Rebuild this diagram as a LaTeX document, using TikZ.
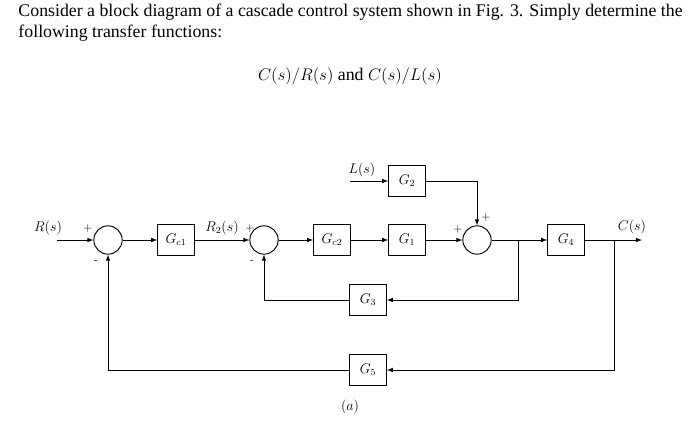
\documentclass[tikz,border=0pt]{standalone}
\usepackage{tikz}
\usepackage{fontspec}
\newfontfamily\titlefont{Liberation Serif}
\usetikzlibrary{shapes,arrows}
\begin{document}
\begin{tikzpicture}[x=0.03cm, y=-0.03cm, thick, font=\large]
\tikzstyle{blockr}=[rectangle, draw, thick, minimum width=1.1cm, minimum height=0.95cm, inner sep=2pt]
\tikzstyle{sumc}=[circle, draw, thick, minimum size=0.85cm, inner sep=0pt]
\tikzstyle{drawstyle}=[thick, -latex]
\tikzstyle{signstyle}=[font=\normalsize, inner sep=1pt]
\tikzstyle{titlestyle}=[anchor=west, font=\titlefont\fontsize{15.2}{18}\selectfont, inner sep=0pt]
\useasboundingbox (0,0) rectangle (700,436);

\node[titlestyle] (T1) at (18,12) {Consider a block diagram of a cascade control system shown in Fig. 3. Simply determine the};
\node[titlestyle] (T2) at (18,33) {following transfer functions:};
\node[font=\titlefont\fontsize{15.2}{18}\selectfont] (T3) at (350,76) {$C(s)/R(s)$ and $C(s)/L(s)$};

\coordinate (IN) at (57,240);
\node[sumc] (S1) at (108,240) {};
\node[blockr] (Gc1) at (176,240) {$G_{c1}$};
\node[sumc] (S2) at (264,240) {};
\node[blockr] (Gc2) at (332,240) {$G_{c2}$};
\node[blockr] (G1) at (407,240) {$G_1$};
\node[sumc] (S3) at (477,240) {};
\node[blockr] (G4) at (566,240) {$G_4$};
\coordinate (OUT) at (642,240);
\node[blockr] (G2) at (407,181) {$G_2$};
\coordinate (LIN) at (350,181);
\node[blockr] (G3) at (368,300) {$G_3$};
\node[blockr] (G5) at (368,370) {$G_5$};
\coordinate (B1) at (518,240);
\coordinate (B2) at (614,240);

\node (Rlab) at (48,228) {$R(s)$};
\node (R2lab) at (222,228) {$R_2(s)$};
\node (Llab) at (362,170) {$L(s)$};
\node (Clab) at (632,227) {$C(s)$};
\node (alab) at (350,407) {$(a)$};
\node[signstyle] (p1) at (88,229) {+};
\node[signstyle] (m1) at (96,262) {-};
\node[signstyle] (p2) at (250,229) {+};
\node[signstyle] (m2) at (252,262) {-};
\node[signstyle] (p3) at (458,230) {+};
\node[signstyle] (p4) at (486,218) {+};

\draw[drawstyle] (IN) -- (S1);
\draw[drawstyle] (S1) -- (Gc1);
\draw[drawstyle] (Gc1) -- (S2);
\draw[drawstyle] (S2) -- (Gc2);
\draw[drawstyle] (Gc2) -- (G1);
\draw[drawstyle] (G1) -- (S3);
\draw[drawstyle] (S3) -- (G4);
\draw[drawstyle] (G4) -- (OUT);
\draw[drawstyle] (LIN) -- (G2);
\draw[drawstyle] (G2) -| (S3);
\draw[drawstyle] (B1) |- (G3);
\draw[drawstyle] (G3) -| (S2);
\draw[drawstyle] (B2) |- (G5);
\draw[drawstyle] (G5) -| (S1);
\end{tikzpicture}
\end{document}
